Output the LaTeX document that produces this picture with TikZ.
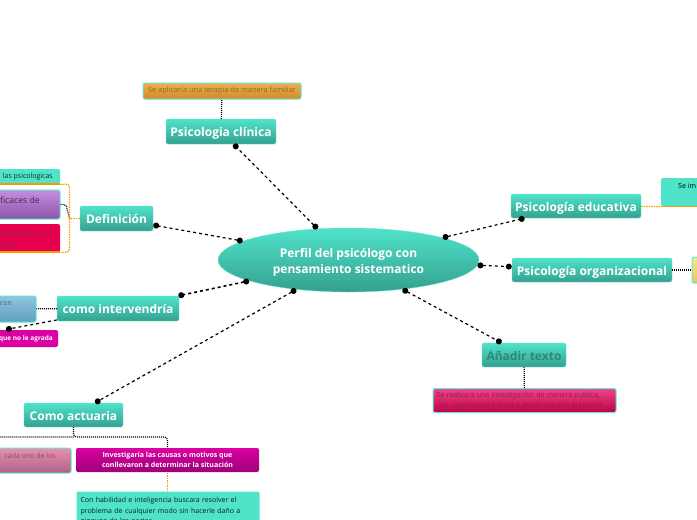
\documentclass[tikz,border=0pt]{standalone}
\usepackage{fontspec}
\setmainfont{Open Sans}
\usetikzlibrary{arrows.meta,shapes.geometric}
\definecolor{verde}{HTML}{4FE3CA}
\definecolor{verdeosc}{HTML}{35A08F}
\definecolor{borde}{HTML}{5FE8D2}
\definecolor{naranja}{HTML}{F59B00}
\definecolor{magentaa}{HTML}{DB00A2}
\definecolor{magentab}{HTML}{9E0078}
\definecolor{carmin}{HTML}{E6004F}
\definecolor{carminosc}{HTML}{A0204F}
\begin{document}
\begin{tikzpicture}[x=1pt,y=-1pt,
  tema/.style={rectangle,rounded corners=2pt,top color=verde,bottom color=verdeosc,draw=borde,line width=.4pt,text=white,font=\bfseries\fontsize{12}{15.5}\selectfont,inner sep=0pt,align=center,text height=11.2pt,text depth=1pt},
  caja/.style={rectangle,rounded corners=2pt,draw=borde,line width=1pt,inner sep=0pt,font=\fontsize{7}{10.5}\selectfont,align=center},
  letra/.style={inner sep=0pt,font=\fontsize{7}{10.5}\selectfont},
  enlace/.style={draw=black,line width=1.2pt,dash pattern=on 3pt off 3pt,{Circle[length=6pt]}-{Circle[length=6pt]}},
  rama/.style={draw=black,line width=1.2pt,dash pattern=on 1pt off 1pt},
  ramana/.style={draw=naranja,line width=1.2pt,dash pattern=on 1.5pt off 1pt}]
\useasboundingbox (0,0) rectangle (697,520);

\node [tema,ellipse,minimum width=261pt,minimum height=64pt,text height=27.4pt,text depth=1pt] (perfil) at (348.5,260) {Perfil del psicólogo con\\pensamiento sistematico};

\node [tema,minimum width=110pt,minimum height=25pt] (clinica) at (221,131.5) {Psicologia clínica};
\node [tema,minimum width=73pt,minimum height=25pt] (definicion) at (116.5,218.5) {Definición};
\node [tema,minimum width=122pt,minimum height=25pt] (intervendria) at (118,308.5) {como intervendría};
\node [tema,minimum width=99pt,minimum height=24pt] (actuaria) at (73.5,415) {Como actuaria};
\node [tema,minimum width=130pt,minimum height=24pt] (educativa) at (576,206) {Psicología educativa};
\node [tema,minimum width=160pt,minimum height=24pt] (organizacional) at (592,270) {Psicología organizacional};
\node [tema,minimum width=84pt,minimum height=24pt,text=verdeosc!85!black] (anadir) at (524,355) {Añadir texto};

\node [caja,top color={rgb,255:red,239;green,176;blue,80},bottom color={rgb,255:red,207;green,138;blue,37},text={rgb,255:red,138;green,106;blue,48},minimum width=158pt,minimum height=16pt,font=\fontsize{7.4}{10}\selectfont] (terapia) at (222,91) {Se aplicaría una terapia de manera familiar};
\node [caja,draw=none,fill=verde,minimum width=180pt,minimum height=15pt] (escalas) at (-30,176.5) {};
\node [letra,anchor=east,text=black!80!verde] (escalastxt) at (53,176.5) {las psicologicas};
\node [caja,top color={rgb,255:red,196;green,143;blue,224},bottom color={rgb,255:red,138;green,85;blue,168},minimum width=120pt,minimum height=29pt] (eficaces) at (0,204.5) {};
\node [letra,anchor=east,text=black!55!violet!70!gray,font=\fontsize{8.7}{10.5}\selectfont] (eficacestxt) at (40,200) {ficaces de};
\node [caja,draw=none,fill=carmin,minimum width=120pt,minimum height=28pt] (pendientes) at (0,238) {};
\node [letra,anchor=east,text=carminosc,font=\fontsize{8.2}{10.5}\selectfont] (pendientestxt) at (52,233) {endientes del};
\node [letra,anchor=east,text=carminosc,font=\fontsize{8.2}{10.5}\selectfont] (pendientestxtb) at (17,244) {esido};
\node [caja,top color={rgb,255:red,144;green,197;blue,224},bottom color={rgb,255:red,95;green,159;blue,192},minimum width=100pt,minimum height=26pt] (opinion) at (-14,309) {};
\node [letra,anchor=east,text=black!65!cyan] (opiniontxt) at (12,304) {con};
\node [caja,draw=none,fill=magentaa,minimum width=200pt,minimum height=17pt] (agrada) at (-42,338.5) {};
\node [letra,anchor=east,text=white,font=\bfseries\fontsize{6.5}{9}\selectfont] (agradatxt) at (53,338.5) {que no le agrada};
\node [caja,top color={rgb,255:red,232;green,144;blue,176},bottom color={rgb,255:red,176;green,96;blue,136},minimum width=342pt,minimum height=25pt] (pasos) at (-100,460.5) {};
\node [letra,anchor=east,text={rgb,255:red,122;green,80;blue,96}] (pasostxt) at (56,456) {cada uno de los};
\node [caja,draw=none,top color=magentaa,bottom color=magentab,text=white,minimum width=183pt,minimum height=24pt,font=\bfseries\fontsize{7}{10}\selectfont] (causas) at (167.5,460) {Investigaría las causas o motivos que\\conllevaron a determinar la situación};
\node [caja,draw=none,fill=verde,anchor=north west,minimum width=183pt,minimum height=40pt,text width=175pt,align=left,text=black!85!verde] (habilidad) at (76,491) {Con habilidad e inteligencia buscara resolver el problema de cualquier modo sin hacerle daño a ninguna de las partes};
\node [caja,draw=none,fill=verde,minimum width=80pt,minimum height=28pt] (imparte) at (701,192) {};
\node [letra,anchor=west,text=black] (impartetxt) at (678,186) {Se im};
\node [caja,top color={rgb,255:red,248;green,232;blue,130},bottom color={rgb,255:red,232;green,200;blue,90},minimum width=50pt,minimum height=26pt] (laboral) at (717,270) {};
\node [caja,top color={rgb,255:red,238;green,68;blue,136},bottom color={rgb,255:red,192;green,0;blue,69},text={rgb,255:red,138;green,32;blue,80},minimum width=183pt,minimum height=24pt,text width=176pt,align=left,font=\fontsize{7}{10}\selectfont] (publica) at (524.5,400.5) {Se realizara una investigación de manera publica,\\con \ objetividad y mucha prudencia con prejuicios};

\draw [enlace] (perfil) -- (clinica);
\draw [enlace] (perfil) -- (definicion);
\draw [enlace,line width=1.6pt] (perfil) -- (intervendria);
\draw [enlace] (perfil) -- (actuaria);
\draw [enlace] (perfil) -- (educativa);
\draw [enlace] (perfil) -- (organizacional);
\draw [enlace] (perfil) -- (anadir);
\draw [enlace,{Circle[length=0pt]}-{Circle[length=6pt]}] (intervendria) -- (agrada);

\draw [rama] (clinica) -- (terapia);
\draw [rama] (anadir) -- (publica);
\draw [rama] (intervendria) -- (opinion);
\draw [rama] (organizacional) -- (laboral);

\coordinate (cruce) at (73.5,437);
\draw [rama,rounded corners=3pt] (actuaria.south) -- (cruce) -| (causas.north);
\draw [rama,rounded corners=3pt] (cruce) -| (pasos.north);
\draw [ramana] (causas) -- (causas|-habilidad.north);
\draw [ramana] (educativa) -- (imparte.south west);
\draw [draw=naranja,line width=1.2pt] (imparte.south west) -- (imparte.south east);

\coordinate (llave) at (69.5,218.5);
\draw [rama,rounded corners=2pt] (eficaces.east) -- (66,204.5) -- (llave);
\draw [ramana] (definicion) -- (llave);
\draw [ramana,rounded corners=3pt] (escalas.south east) -- (69.5,184) -- (llave) -- (69.5,252) -- (pendientes.south east);
\draw [draw=naranja,line width=1.2pt] (0,184) -- (60,184);
\draw [draw=naranja,line width=1.2pt] (0,252) -- (60,252);
\end{tikzpicture}
\end{document}
